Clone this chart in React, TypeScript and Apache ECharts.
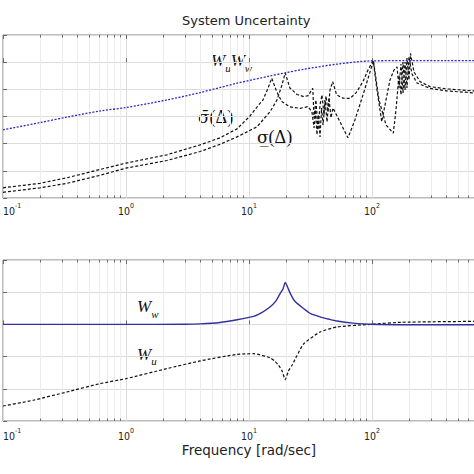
import React, { useEffect, useRef } from "react";
import * as echarts from "echarts";

// ---------- data (frequency in rad/s, magnitude in dB) ----------
const decades = [0.1, 1, 10, 100, 1000];
const minorSteps = [2, 3, 4, 5, 6, 7, 8, 9];

const topYMin = -100;
const topYMax = 20;
const botYMin = -60;
const botYMax = 40;
const yStep = 20;

const wuwwFreq = [0.1, 0.2, 0.33, 0.62, 1, 2.15, 4, 8, 14.9, 19.6, 27.9, 51.6, 96, 180, 400, 1000];
const wuwwMag = [-49.8, -44.5, -40.5, -35.9, -33.4, -27.8, -22.4, -15.5, -10.1, -7.9, -5.2, -1.5, 0.9, 1.1, 1.1, 1.1];

const sigma1Freq = [0.1, 0.2, 0.331, 0.615, 1.0, 2.15, 4.0, 5.8, 8.0, 10.2, 11.8, 13.0, 14.3, 15.3, 16.8, 18.45, 21.5, 26.0, 30.2, 32.5, 33.8, 34.7, 35.7, 36.7, 37.8, 38.9, 40.0, 41.5, 43.1, 44.7, 46.4, 48.2, 52.9, 58.1, 63.8, 72.7, 84.5, 96.3, 102.5, 109.8, 120, 130, 140, 151, 159.7, 165.8, 172.1, 178.6, 185.5, 192.5, 199.8, 211.4, 232.2, 296, 407, 675, 1000];
const sigma1Mag = [-92.5, -89.2, -85.1, -79.0, -74.3, -68.2, -60.9, -55.7, -49.1, -39.6, -32.2, -27.8, -19.0, -11.8, -21.7, -29.0, -32.9, -34.0, -32.7, -36.6, -48.4, -35.1, -53.5, -38.8, -55.0, -33.7, -46.2, -27.8, -44.0, -26.3, -41.0, -33.7, -41.0, -48.4, -55.7, -42.5, -24.1, -7.2, 0.5, -20.4, -43.8, -27.8, -13.1, -5.7, -3.5, -19.0, -1.3, -22.6, 0.1, -19.0, 3.8, -8.7, -15.3, -19.3, -21.2, -22.6, -23.2];

const sigma2Freq = [0.1, 0.2, 0.331, 0.615, 1.0, 2.15, 4.0, 5.8, 8.0, 11.6, 14.8, 16.9, 18.55, 19.7, 21.5, 24.6, 28.0, 30.3, 33.0, 33.8, 35.0, 36.4, 37.8, 39.2, 40.7, 42.3, 43.9, 45.6, 47.9, 51.6, 58.1, 66.2, 74.1, 84.5, 92.8, 102.5, 114, 130, 149, 156.7, 165.8, 172.1, 178.6, 185.5, 192.5, 199.8, 205.6, 219.5, 245.6, 296, 407, 675, 1000];
const sigma2Mag = [-95.8, -92.5, -89.2, -83.3, -78.0, -72.4, -65.8, -60.5, -55.0, -47.6, -36.6, -27.8, -16.8, -7.9, -19.0, -23.8, -25.4, -24.6, -19.2, -41.0, -27.8, -49.9, -31.5, -24.1, -38.8, -24.9, -36.6, -20.4, -14.3, -24.1, -26.5, -26.7, -22.6, -14.3, -5.7, 1.5, -27.8, -46.2, -52.3, -35.1, -9.4, -24.1, 0.1, -20.4, 3.1, -13.1, 6.4, -7.2, -14.3, -18.0, -19.7, -21.2, -21.8];

const wwFreq = [0.1, 1, 3, 4, 5.8, 8, 10.9, 12.8, 14.8, 16.5, 17.9, 18.9, 19.7, 20.5, 21.7, 23.5, 27.9, 32, 37.8, 45, 51.9, 70, 96.8, 200, 1000];
const wwMag = [0, 0, 0.1, 0.3, 1.2, 2.9, 5.0, 7.5, 10.8, 14.5, 19.1, 22.0, 26.1, 23.5, 19.1, 14.5, 9.7, 6.5, 4.7, 3.2, 2.1, 0.8, 0.1, -0.2, -0.2];

const wuFreq = [0.1, 0.176, 0.33, 0.615, 1.0, 2.14, 4.0, 8.0, 10.9, 14.8, 16.2, 17.4, 18.6, 19.7, 20.9, 22.4, 24.5, 27.9, 37.9, 51.9, 96.8, 171, 675, 1000];
const wuMag = [-50.7, -47.1, -42.0, -36.8, -33.7, -27.5, -22.7, -18.6, -18.2, -20.7, -22.8, -25.4, -29.0, -34.3, -29.0, -25.4, -19.5, -12.0, -4.7, -1.6, 0, 1.3, 1.9, 2.0];

const titleText = "System Uncertainty";
const xName = "Frequency [rad/sec]";

// ---------- helpers ----------
const pairs = (xs: number[], ys: number[]) => xs.map((x, i) => [x, ys[i]]);

const decorData: number[][] = [];
decades.forEach((d, i) => {
  decorData.push([d, 1]);
  if (i < decades.length - 1) minorSteps.forEach((m) => decorData.push([d * m, 0]));
});

const sans = "'DejaVu Sans', 'Liberation Sans', sans-serif";
const tickFont = "'Liberation Sans Narrow', 'DejaVu Sans Condensed', 'Liberation Sans', sans-serif";
const serif = "'Liberation Serif', 'DejaVu Serif', serif";
const mathSerif = "'DejaVu Serif', 'Liberation Serif', serif";

const decorSeries = (idx: number) => ({
  type: "custom",
  xAxisIndex: idx,
  yAxisIndex: idx,
  silent: true,
  z: 1,
  data: decorData,
  renderItem: (params: any, api: any) => {
    const f = api.value(0);
    const major = api.value(1) === 1;
    const cs = params.coordSys;
    const x = Math.round(api.coord([f, 0])[0]) + 0.5;
    const top = cs.y;
    const bot = cs.y + cs.height;
    const tick = major ? 4 : 2.5;
    const children: any[] = [];
    if (!major) {
      children.push({ type: "line", shape: { x1: x, y1: top, x2: x, y2: bot }, style: { stroke: "#ececec", lineWidth: 1 } });
      children.push({ type: "line", shape: { x1: x, y1: bot, x2: x, y2: bot - tick }, style: { stroke: "#6a6a6a", lineWidth: 1 } });
    }
    children.push({ type: "line", shape: { x1: x, y1: top, x2: x, y2: top + tick }, style: { stroke: "#6a6a6a", lineWidth: 1 } });
    return { type: "group", children };
  },
});

const makeX = (idx: number, margin: number) => ({
  type: "log",
  logBase: 10,
  min: 0.1,
  max: 1000,
  gridIndex: idx,
  axisLine: { show: false },
  axisTick: { show: true, inside: true, length: 4, lineStyle: { color: "#6a6a6a" } },
  splitLine: { show: true, lineStyle: { color: "#dcdcdc", width: 1 } },
  axisLabel: {
    show: true,
    margin,
    showMinLabel: true,
    showMaxLabel: false,
    alignMinLabel: "left",
    formatter: (v: number) => `{b|10}{s|${Math.round(Math.log10(v))}}`,
    rich: {
      b: { fontFamily: tickFont, fontSize: 10.5, lineHeight: 14, verticalAlign: "bottom", color: "#222" },
      s: { fontFamily: tickFont, fontSize: 7, lineHeight: 14, verticalAlign: "top", color: "#222" },
    },
  },
  name: idx === 1 ? xName : "",
  nameLocation: "middle",
  nameGap: 22,
  nameTextStyle: { fontFamily: sans, fontSize: 13.5, color: "#222" },
});

const makeY = (idx: number, min: number, max: number) => ({
  type: "value",
  gridIndex: idx,
  min,
  max,
  interval: yStep,
  axisLine: { show: false },
  axisTick: { show: true, inside: true, length: 4, lineStyle: { color: "#6a6a6a" } },
  axisLabel: { show: false },
  splitLine: { show: true, lineStyle: { color: "#dcdcdc", width: 1 } },
});

const lineSeries = (idx: number, data: number[][], color: string, type: any, width: number, smooth: number | boolean) => ({
  type: "line",
  xAxisIndex: idx,
  yAxisIndex: idx,
  data,
  showSymbol: false,
  symbol: "none",
  smooth,
  silent: true,
  z: 3,
  lineStyle: { color, width, type },
});

const subRich = {
  w: { fontFamily: serif, fontStyle: "italic", fontSize: 17, lineHeight: 21, verticalAlign: "top", fill: "#111" },
  s: { fontFamily: serif, fontStyle: "italic", fontSize: 11, lineHeight: 21, verticalAlign: "bottom", fill: "#111" },
};

const sigRich = {
  g: { fontFamily: mathSerif, fontSize: 17, lineHeight: 20, fill: "#111" },
  n: { fontFamily: serif, fontSize: 18, lineHeight: 20, fill: "#111" },
};

const gridBase = { left: 3, width: 492, show: true, borderColor: "#7a7a7a", borderWidth: 1, backgroundColor: "transparent", outerBoundsMode: "none", containLabel: false };

export default function App() {
  const ref = useRef<HTMLDivElement>(null);
  useEffect(() => {
    if (!ref.current) return;
    const chart = echarts.init(ref.current, undefined, { renderer: "svg" });
    const option: any = {
      animation: false,
      backgroundColor: "#ffffff",
      title: {
        text: titleText,
        left: 182,
        top: 14,
        padding: 0,
        textStyle: { fontFamily: sans, fontSize: 13, fontWeight: "normal", color: "#222" },
      },
      grid: [
        { ...gridBase, top: 35, height: 163 },
        { ...gridBase, top: 260, height: 161 },
      ],
      xAxis: [makeX(0, 4), makeX(1, 6)],
      yAxis: [makeY(0, topYMin, topYMax), makeY(1, botYMin, botYMax)],
      series: [
        decorSeries(0),
        decorSeries(1),
        lineSeries(0, pairs(sigma1Freq, sigma1Mag), "#111111", [3, 2], 1.2, false),
        lineSeries(0, pairs(sigma2Freq, sigma2Mag), "#111111", [3, 2], 1.2, false),
        lineSeries(0, pairs(wuwwFreq, wuwwMag), "#2b2bc8", [2, 1.5], 1.3, 0.3),
        lineSeries(1, pairs(wuFreq, wuMag), "#111111", [3, 2], 1.2, 0.2),
        lineSeries(1, pairs(wwFreq, wwMag), "#32329e", "solid", 1.4, 0.2),
      ],
      graphic: [
        { type: "text", x: 211, y: 62.5, style: { text: "{w|W}{s|u}{w|W}{s|w}", rich: subRich, verticalAlign: "middle", align: "left" } },
        { type: "text", x: 198, y: 116.7, style: { text: "{g|\u03C3\u0304}{n|(\u0394)}", rich: sigRich, verticalAlign: "middle", align: "left" } },
        { type: "text", x: 257, y: 136.7, style: { text: "{g|\u03C3\u0332}{n|(\u0394)}", rich: sigRich, verticalAlign: "middle", align: "left" } },
        { type: "text", x: 137, y: 308.5, style: { text: "{w|W}{s|w}", rich: subRich, verticalAlign: "middle", align: "left" } },
        { type: "text", x: 137, y: 356, style: { text: "{w|W}{s|u}", rich: subRich, verticalAlign: "middle", align: "left" } },
      ],
    };
    chart.setOption(option);
    return () => chart.dispose();
  }, []);
  return <div ref={ref} style={{ position: "absolute", left: 0, top: 0, width: 474, height: 474 }} />;
}
